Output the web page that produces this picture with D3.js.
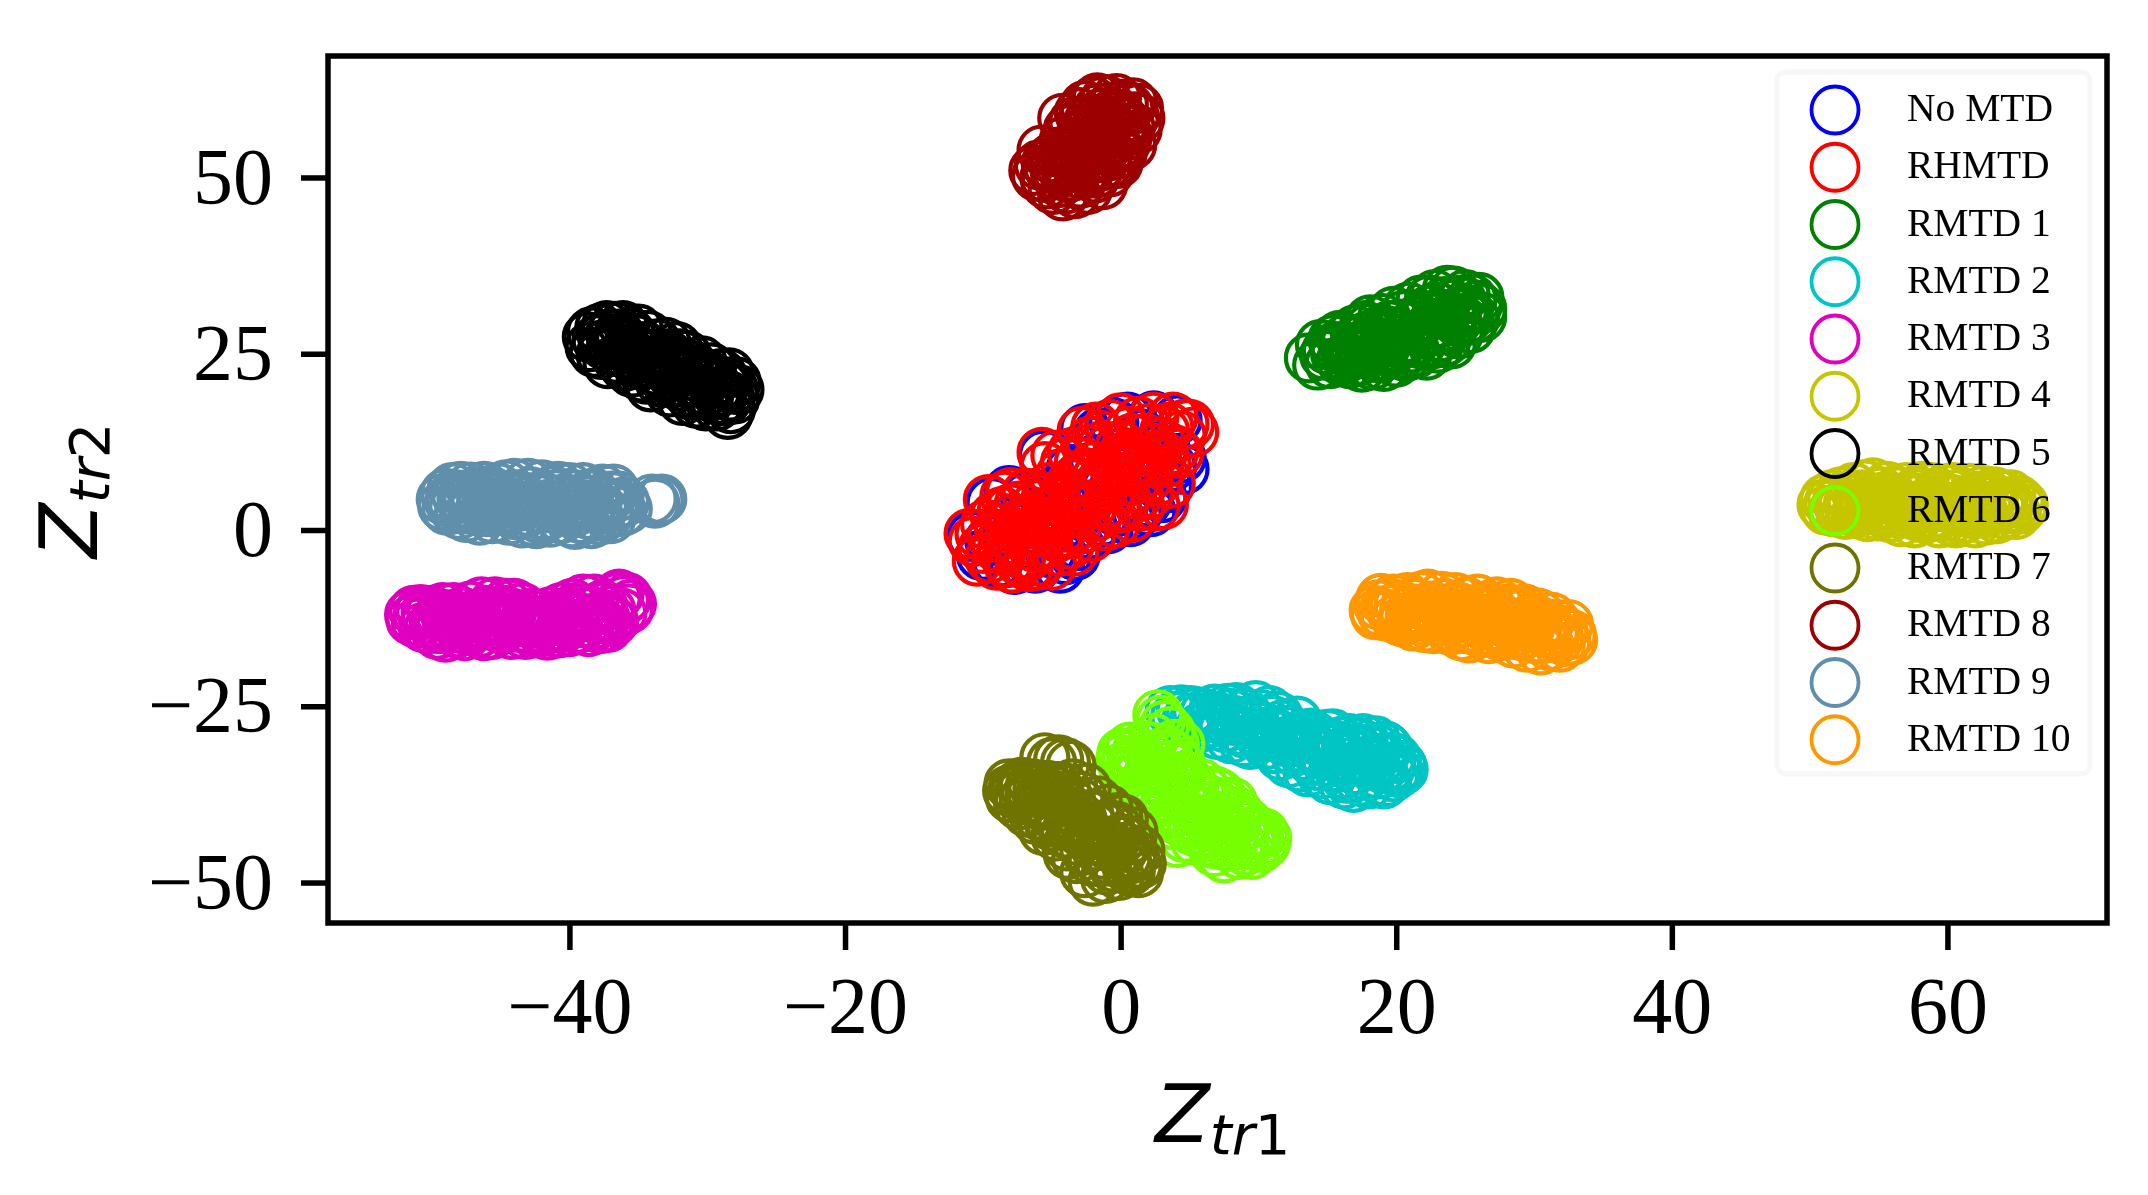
<!DOCTYPE html>
<html><head><meta charset="utf-8">
<script src="https://cdnjs.cloudflare.com/ajax/libs/d3/7.8.5/d3.min.js"></script>
<style>html,body{margin:0;padding:0;background:#fff}svg{display:block;filter:blur(0.5px)}</style>
</head><body><div id="chart"></div>
<script>
const labels=["No MTD","RHMTD","RMTD 1","RMTD 2","RMTD 3","RMTD 4","RMTD 5","RMTD 6","RMTD 7","RMTD 8","RMTD 9","RMTD 10"];
const colors=["#0000ff","#ff0000","#008000","#00c5c5","#e000c0","#c5c500","#000000","#76ff00","#6f7300","#9c0000","#5f8fab","#ff9800"];
const xTicks=[-40,-20,0,20,40,60];
const yTicks=[-50,-25,0,25,50];
const noMtd=[[-10.8,-.9],[-10.1,-3.6],[-9.5,-1.5],[-9.4,3.9],[-8.9,-4.6],[-8.3,1],[-8.1,5.6],[-7.7,-5.6],[-7.1,-2],[-6.9,4.6],[-6.2,-5.4],[-6,1.8],[-5.6,10.6],[-5.1,-3.2],[-4.9,5.4],[-4.4,-5.4],[-4.2,.8],[-4,-4.2],[-3.6,8.6],[-3.3,-3.6],[-3,-2.2],[-2.6,14.4],[-2.6,3.4],[-2.2,-.6],[-1.9,10],[-1.6,13.8],[-1.4,1.2],[-1,6],[-.9,.2],[-.5,15.2],[-.3,2.6],[.1,11],[.5,16],[.7,1.2],[1,7.4],[1.2,2.4],[1.5,13.6],[1.9,4],[2.2,2.6],[2.4,16.2],[2.6,9],[3,4.6],[3.2,12],[3.4,6],[3.7,9],[4.4,10.2],[4.6,8.6],[4.1,15.6]];
const rhmtd=[[-11,-.5],[-10.7,-1.6],[-10.4,-4.4],[-10.2,-.6],[-10,-2.6],[-9.8,.8],[-9.6,4.3],[-9.5,-4],[-9.3,-1],[-9.1,2],[-9,-5],[-8.8,.2],[-8.6,-2.8],[-8.4,4.8],[-8.2,-4.6],[-8,5.3],[-7.9,-5.4],[-7.8,1.6],[-7.6,-1.6],[-7.4,3.4],[-7.2,-3.4],[-7,-.4],[-6.8,5.2],[-6.7,-5.2],[-6.5,1.2],[-6.3,-2.4],[-6.1,3.6],[-5.9,-4.4],[-5.7,11],[-5.6,.4],[-5.5,9],[-5.3,-1.8],[-5.2,6],[-5,-5],[-4.8,2.8],[-4.7,10.6],[-4.5,-3],[-4.3,8],[-4.1,.4],[-3.9,5],[-3.7,-2],[-3.5,11],[-3.4,-3],[-3.2,2.8],[-3,7.6],[-2.8,14],[-2.7,.2],[-2.5,4.8],[-2.4,11.4],[-2.2,-1],[-2,9],[-1.8,14.6],[-1.7,2],[-1.5,6.6],[-1.3,12],[-1.1,.6],[-.9,4],[-.8,15],[-.6,9.4],[-.4,1],[-.2,6],[0,15.9],[0,12],[.2,3.4],[.4,9],[.6,14],[.8,1.8],[.9,6],[1.1,11],[1.3,15.4],[1.4,3.4],[1.6,8],[1.8,13],[2,5],[2.2,10],[2.4,16],[2.5,3.4],[2.7,7],[2.9,12.4],[3.1,3.6],[3.3,9.6],[3.5,14.6],[3.8,16],[3.6,6.6],[3.9,11.4],[4.2,10.9],[4.4,13.4],[4.6,15],[5,15],[5.3,13.9],[-9,-2.4],[-8.4,-.6],[-8,3],[-7.5,.4],[-7.3,-4.5],[-6.6,-3.6],[-6.2,-.4],[-5.8,2.4],[-5.4,4.6],[-4.6,-1],[-4.2,2],[-3.8,-.4],[-3.2,.6],[-3.6,6.6],[-2.6,7.4],[-2,3.6],[-1.8,5.2],[-4,9.6],[-3,9.6],[-1,8],[-.4,3],[-.8,11.6],[.3,7],[.5,10.6],[1.3,5],[1,9.4],[2,7.4],[2.4,11.6],[.8,13],[2,14.4],[3,10.6],[3.2,14],[-1.4,13.4],[-2.2,12.6],[-4,4],[-7,1.2],[-8.6,2.6],[-5,.9],[-6,-5]];
const rmtd1=[[13.7,24.4],[14.3,23.4],[14.5,26.3],[14.8,24.8],[15,25.6],[15.2,23.6],[15.4,27],[15.6,25],[15.9,27.6],[16,24],[16.2,26],[16.4,27.2],[16.6,23.6],[16.8,25.4],[17,28.4],[17.2,26.8],[17.3,24],[17.5,23.1],[17.7,29],[17.8,27.4],[18,25.2],[18.1,29.8],[18.3,23.4],[18.5,28],[18.6,26.2],[18.8,24.4],[19,30],[19.1,23.2],[19.3,27.4],[19.5,29],[19.6,25.2],[19.8,31],[20,23.8],[20.1,28],[20.3,26.4],[20.5,30.4],[20.7,24.6],[20.9,31.6],[21,28.8],[21.2,26.8],[21.4,25],[21.6,30],[21.8,32.6],[22,27.8],[22.2,24.8],[22.4,31.2],[22.6,29.2],[22.8,33.4],[23,25.8],[23.2,27.4],[23.3,30.6],[23.5,32.4],[23.7,34],[23.9,28.6],[24,26.4],[24.2,33.9],[24.3,30.8],[24.5,27.8],[24.7,32.6],[24.9,29.6],[25,33.4],[25.2,31.2],[25.4,28.6],[25.5,32.8],[25.7,30],[25.9,31.9],[26,33],[26.2,31.4],[26.2,30.2],[15.6,26],[16.6,25],[17.4,26],[17.6,25],[18.2,27],[18.4,24.6],[19.2,26],[19.4,28.2],[19.8,25.8],[20.2,29.2],[20.6,27.2],[21,25.8],[21.4,29],[21.8,26.4],[22,30.4],[22.2,28.2],[22.6,26.4],[23,31.6],[23.4,28.8],[23.6,26.8],[24,32],[24.4,29.6],[24.8,31],[25.2,30],[16.4,24.4],[17,25],[18,28.6],[20.4,25],[24,30.2],[22.4,32.6]];
const rmtd2=[[3.6,-25.6],[4,-26.4],[4.4,-25.5],[4.8,-27],[5.1,-25.6],[5.4,-26.6],[5.8,-28],[6.1,-26],[6.4,-27.4],[6.8,-25.4],[7,-29],[7.2,-26.6],[7.5,-28],[7.8,-25.3],[8,-29.6],[8.2,-27],[8.4,-25.2],[8.6,-28.4],[8.9,-30],[9.1,-26],[9.4,-30.4],[9.6,-27.6],[9.8,-24.9],[10,-29],[10.2,-26.2],[10.4,-28],[10.6,-30.4],[10.8,-25.6],[11,-27],[11.2,-31],[11.4,-29],[11.6,-32],[11.8,-27.6],[12,-30],[12.2,-33],[12.4,-28.6],[12.6,-31.4],[12.8,-27.1],[13,-33.6],[13.2,-29.6],[13.4,-32],[13.6,-34.3],[13.8,-28.8],[14,-31],[14.2,-33.4],[14.4,-30],[14.6,-34.6],[14.8,-32],[15,-29],[15.2,-35.4],[15.4,-28.9],[15.6,-31],[15.8,-33.6],[16,-30],[16.2,-36],[16.4,-32.4],[16.6,-29.6],[16.9,-36.5],[17,-34],[17.2,-31],[17.4,-35.6],[17.6,-29.6],[17.8,-33],[18,-36],[18.2,-31.4],[18.5,-29.9],[18.7,-34.6],[18.9,-32.4],[19.1,-36],[19.3,-35.7],[19.4,-31],[19.6,-33.6],[19.8,-35],[20,-32.4],[20.2,-34.4],[20.4,-33.4],[20.5,-34],[5.6,-25.8],[6.6,-26.4],[7.4,-27],[8,-26],[9,-28.8],[9.4,-27],[10.4,-29.4],[10.8,-28.6],[11.4,-26.4],[12,-28.4],[12.6,-29.8],[13,-30.8],[13.4,-29],[13.8,-32.6],[14.2,-29.4],[14.6,-31.6],[15,-33],[15.4,-30.4],[15.8,-32],[16.2,-34.6],[16.6,-31.4],[17,-32.8],[17.4,-30.2],[17.8,-34.8],[18.2,-33.2],[18.6,-31],[19,-33.8],[19.2,-30.6],[19.6,-32.2],[20,-34],[16.4,-35.2],[15,-30.4],[12.4,-30],[11,-29]];
const rmtd3=[[-51.6,-12],[-51.5,-12.8],[-51.3,-11.4],[-51.1,-13.2],[-51,-12],[-50.8,-11.3],[-50.6,-13.8],[-50.4,-12.6],[-50.2,-14],[-50,-11.4],[-49.8,-13],[-49.6,-14.8],[-49.4,-12],[-49.2,-11],[-49,-15.2],[-48.8,-13.4],[-48.6,-12.2],[-48.4,-11],[-48.2,-14.6],[-48,-13],[-47.8,-11.6],[-47.6,-15],[-47.4,-12.6],[-47.2,-10.8],[-47,-14],[-46.8,-12],[-46.6,-13.4],[-46.4,-10.2],[-46.2,-15],[-46,-11.4],[-45.8,-13],[-45.6,-14.8],[-45.4,-10.2],[-45.2,-12.4],[-45,-14],[-44.8,-11.4],[-44.6,-10.4],[-44.4,-13.4],[-44.2,-14.8],[-44,-10.4],[-43.8,-12.2],[-43.6,-13.8],[-43.4,-11],[-43.2,-14.8],[-43,-12.8],[-42.8,-11.8],[-42.6,-14.6],[-42.4,-13.2],[-42.2,-12],[-42,-14.4],[-41.8,-13],[-41.6,-14.9],[-41.4,-11.6],[-41.2,-13.6],[-41,-12.2],[-40.8,-14.6],[-40.6,-11],[-40.4,-13],[-40.2,-12],[-40,-14.4],[-39.8,-10.4],[-39.6,-12.6],[-39.4,-14],[-39.2,-11.2],[-39,-9.8],[-38.8,-13.2],[-38.6,-14.4],[-38.4,-11.6],[-38.2,-9.8],[-38,-12.6],[-37.8,-14],[-37.6,-10.6],[-37.4,-12.6],[-37.2,-13.8],[-37,-11.4],[-36.8,-13],[-36.6,-9.6],[-36.4,-9.1],[-36.2,-11.8],[-36,-10],[-35.8,-9.6],[-35.5,-10.5],[-35.7,-11.2],[-50.4,-11.6],[-49.6,-13.4],[-49,-12],[-48.4,-13],[-47.8,-14],[-47.2,-12.2],[-46.6,-14.6],[-46,-12.6],[-45.4,-13.6],[-44.8,-12.8],[-44.2,-11.8],[-43.6,-12.6],[-43,-14],[-42.4,-12],[-41.8,-14.2],[-41.2,-12.6],[-40.6,-13.8],[-40,-11.6],[-39.4,-12.4],[-38.8,-11.6],[-38.2,-13.4],[-37.6,-12],[-37,-12.6],[-37.8,-11],[-39.6,-11],[-47.6,-13.4],[-49.4,-14],[-42.8,-13.2],[-44.6,-13],[-46.2,-11.8]];
const rmtd4=[[50.9,3.6],[51.1,4.4],[51.2,2.8],[51.4,3.8],[51.6,5],[51.7,2.6],[52,4],[52.2,3],[52.3,5.4],[52.6,2.2],[52.8,3.6],[53,4.8],[53.2,6],[53.4,2.4],[53.6,3.4],[53.8,5],[54,6.4],[54.2,1.9],[54.4,3],[54.6,6.7],[54.8,4.2],[55,2],[55.2,5.4],[55.4,3.2],[55.6,6.2],[55.8,1.8],[56,4.4],[56.2,2.8],[56.4,5.4],[56.6,1.2],[56.8,3.6],[57,6],[57.2,2.4],[57.4,4.6],[57.6,1],[57.8,5.6],[58,3],[58.2,6.2],[58.4,1.6],[58.6,4],[58.8,6],[59,2.4],[59.2,5],[59.4,1],[59.6,3.4],[59.8,5.8],[60,2],[60.2,4.4],[60.4,6],[60.6,1],[60.8,3],[61,5.2],[61.2,1.6],[61.4,4],[61.6,5.9],[61.8,2.6],[62,1],[62.2,4.8],[62.4,3.2],[62.6,5.6],[62.8,1.4],[63,2.6],[63.2,4.4],[63.4,5.4],[63.6,1.6],[63.8,3.4],[64,5],[64.2,2.2],[64.4,4],[64.6,5],[64.8,3],[65,2.2],[65.2,4.2],[65.4,3],[65.5,3.6],[52.4,3.4],[53,3],[53.6,4.4],[54.4,4.6],[55,3.4],[55.6,4.8],[56,3.2],[56.6,2.4],[57.2,3.4],[57.8,2],[58.2,4.6],[58.8,3.2],[59.2,2],[59.6,4.6],[60,3.2],[60.6,5],[61,2.6],[61.6,3],[62,3.8],[62.6,2.4],[63,5],[63.4,3],[64,4],[64.4,3],[57,4.6],[60.2,1.4],[58,5.2],[55.4,2.4],[54,3.6],[62.4,4.2]];
const rmtd5=[[-38.7,27.4],[-38.5,26],[-38.4,28.1],[-38.2,25.2],[-38,27],[-37.8,28.6],[-37.7,24.9],[-37.5,26.3],[-37.3,29],[-37.2,23.6],[-37,27.8],[-36.8,25.4],[-36.7,28.9],[-36.5,24.3],[-36.3,26.8],[-36.1,29],[-36,23.2],[-35.8,25.7],[-35.6,28],[-35.5,22.4],[-35.3,24.6],[-35.1,27],[-35,28.5],[-34.8,21.7],[-34.7,23.8],[-34.5,26],[-34.3,27.6],[-34.1,20.3],[-34,22.6],[-33.8,24.9],[-33.6,26.4],[-33.4,21],[-33.2,23.2],[-33,26.6],[-32.9,25],[-32.7,19.6],[-32.5,21.9],[-32.3,24],[-32.2,26],[-32,20.4],[-31.8,18.4],[-31.7,22.6],[-31.5,24.8],[-31.3,19.2],[-31.1,21.2],[-31,23.3],[-30.8,18],[-30.6,20],[-30.4,24],[-30.3,22],[-30.1,17.6],[-29.9,19],[-29.7,23],[-29.5,21],[-29.3,17.6],[-29.1,19.6],[-29,22.2],[-28.8,20.6],[-28.6,18.4],[-28.5,16.4],[-28.4,22.3],[-28.3,17.2],[-28.1,20],[-28,18.6],[-27.9,21],[-27.7,19.9],[-37.6,27.4],[-37,25.6],[-36.4,27.8],[-36,25],[-35.6,26.4],[-35,23.6],[-34.6,25],[-34.2,23.6],[-33.6,22.6],[-33,24],[-33.2,21.8],[-32.4,23],[-32,25],[-31.8,21],[-31.4,23.4],[-31,19.6],[-30.6,21.6],[-30.2,19.4],[-29.8,21.8],[-29.4,19.6],[-29,18.4],[-28.6,21],[-28.4,19],[-35.2,25.6],[-36.6,26.6],[-34.4,21.4],[-32.8,22.6],[-30.8,22.6]];
const rmtd6=[[0,-32.6],[.1,-31.6],[.2,-33.6],[.4,-32],[.5,-34.6],[.7,-30.8],[.8,-33],[1,-35.4],[1.2,-31.4],[1.3,-36.6],[1.5,-33.8],[1.7,-30.6],[1.9,-35.2],[2,-37.6],[2.2,-32.4],[2.4,-29.6],[2.6,-34.4],[2.7,-26.2],[2.8,-38],[2.9,-27],[3,-31.6],[3.1,-36],[3.2,-27.7],[3.3,-39.6],[3.5,-33.4],[3.6,-28.6],[3.7,-37.4],[3.9,-30.4],[4,-41],[4.2,-35],[3.9,-32],[4.6,-38.6],[4.8,-42],[4.4,-33.5],[4.3,-30.4],[5.3,-36.6],[5.5,-40],[5.7,-43],[5.9,-36],[6,-38],[6.2,-37],[6.4,-41.6],[6.6,-44.2],[6.8,-37],[7,-39],[7.2,-37.4],[7.4,-42.4],[7.5,-46.5],[7.7,-39],[7.9,-40.4],[8.1,-44.8],[8.1,-38.6],[8.5,-40],[8.6,-46],[8.8,-42],[9,-42],[9.2,-41.5],[9.4,-44],[9.5,-46],[9.6,-43],[9.8,-42.6],[10,-43],[10.2,-45],[10.4,-43],[10.6,-43.7],[10.5,-44.5],[4.1,-44.3],[.9,-34],[1.4,-32.4],[1.8,-36.4],[2.2,-33.8],[2.6,-36.4],[3,-34.6],[3.4,-31.4],[3.4,-38],[3.8,-35.6],[4.2,-39.8],[4.4,-37.4],[4.8,-35.4],[5,-40.6],[5.2,-38.6],[5.6,-41.4],[5.8,-37.6],[6.2,-40],[6.2,-43.2],[6.6,-38.4],[7,-41],[7,-44.6],[7.2,-43.4],[7.6,-44.4],[7.8,-42],[8.2,-43],[8.4,-41.4],[8.8,-44.6],[9,-45.4],[6.8,-45.6],[5.4,-44],[4.6,-43.6],[2.4,-37],[3,-40],[3.8,-41.8],[5.2,-42.6],[2.2,-30.8],[1,-33],[9.8,-44.8]];
const rmtd7=[[-8.2,-37],[-8.1,-36],[-8,-38],[-7.8,-36.6],[-7.6,-37],[-7.4,-39],[-7.2,-35.8],[-7,-36.4],[-6.8,-40],[-6.6,-38],[-6.4,-36],[-6.2,-41],[-6,-36.6],[-5.8,-39],[-5.6,-42.6],[-5.5,-32.3],[-5.3,-36.2],[-5.2,-37.4],[-5,-33],[-4.9,-40.4],[-4.7,-43.4],[-4.5,-32.6],[-4,-36.6],[-4.2,-38.6],[-4,-33],[-3.9,-44.8],[-3.7,-41],[-3.5,-36],[-3.6,-33.4],[-3.2,-46.6],[-3,-38.6],[-2.8,-43],[-2.6,-48.6],[-2.5,-36.6],[-2.3,-40.4],[-2,-49.8],[-1.9,-44.8],[-1.7,-38.4],[-1.5,-47],[-1.3,-42],[-1.1,-49.4],[-.9,-39.6],[-.7,-45],[-.5,-47.8],[-.3,-42],[-.1,-49],[.1,-43.8],[.2,-41],[.4,-46.4],[.6,-44],[.7,-48.4],[.9,-42.8],[1,-46],[1.2,-47.6],[1.4,-45.4],[1.5,-47.3],[1.3,-48.6],[-6,-38.6],[-4.6,-36.4],[-3.4,-42],[-2,-42],[-1,-44.6],[-7.4,-37.6],[-7,-38.2],[-6.6,-36.6],[-6,-40.4],[-5.8,-37.4],[-5.4,-38.6],[-5.2,-41.4],[-4.8,-37],[-4.6,-39.4],[-4.2,-41.6],[-4,-43],[-3.6,-38.6],[-3.4,-40],[-3.2,-44],[-2.8,-37.8],[-2.8,-41],[-2.6,-45.4],[-2.2,-43.2],[-2,-47],[-1.8,-40.4],[-1.4,-44],[-1.2,-46],[-.8,-42],[-.6,-47],[-.4,-44],[0,-46],[.3,-45],[.5,-48],[.8,-46.6],[-.2,-40.8],[-1,-48.2],[-3.8,-46],[-5,-42]];
const rmtd8=[[-6.3,51],[-6.1,50.2],[-5.9,51.8],[-5.7,53.9],[-5.5,50],[-5.4,49.1],[-5.2,51.3],[-5,52.8],[-4.9,48.3],[-4.7,50.4],[-4.5,53.6],[-4.4,49.3],[-4.2,47.4],[-4.2,58.4],[-4.1,55.2],[-4,51.4],[-3.9,48.4],[-3.8,56.8],[-3.7,53.2],[-3.5,50.2],[-3.4,57.9],[-3.3,47.7],[-3.2,54.9],[-3.1,52],[-3,59.2],[-2.9,49.2],[-2.8,56.3],[-2.7,53.5],[-2.6,60.2],[-2.5,51],[-2.4,48.3],[-2.3,58],[-2.2,55],[-2.1,52.6],[-2,60.8],[-1.9,49.9],[-1.8,57],[-1.7,61.3],[-1.6,54],[-1.5,51.6],[-1.4,59.1],[-1.3,49],[-1.2,56],[-1.1,61],[-1,53],[-.9,58],[-.8,50.8],[-.7,60],[-.6,55.1],[-.5,57],[-.4,52.2],[-.3,61.2],[-.2,54.2],[-.1,59],[0,56.2],[.1,53.4],[.2,60.4],[.3,58],[.4,55],[.6,59.9],[.7,57],[.8,54.6],[.9,60.6],[1,58.6],[1.2,56.8],[1.3,59.8],[1.4,58.4],[-5.4,52],[-4.8,51.4],[-4.4,51.6],[-3.8,50],[-3.4,52.6],[-3.4,54],[-2.8,50.4],[-2.6,55],[-2,54],[-2.2,57],[-1.8,50.6],[-1.4,53],[-1,57.4],[-1,51.8],[-.6,59],[-.4,54],[.2,57],[.5,56],[-1.6,59.8],[-3.8,53.8],[-.2,52],[-2.8,58]];
const rmtd9=[[-49.3,4.4],[-49.2,3.4],[-49,5.2],[-48.9,2.8],[-48.7,4],[-48.5,6],[-48.4,3],[-48.2,5],[-48,2.2],[-47.9,6.2],[-47.7,3.8],[-47.5,1.8],[-47.4,5],[-47.2,6.1],[-47,3],[-46.8,4.4],[-46.5,1.4],[-46.4,5.4],[-46.2,6.2],[-46,2.6],[-45.8,3.8],[-45.6,1.6],[-45.4,5],[-45.2,6],[-45,2.8],[-44.8,4],[-44.6,6.4],[-44.4,1.4],[-44.2,3.2],[-44,6.6],[-43.8,5],[-43.6,2.2],[-43.4,1],[-43.2,4],[-43,6.6],[-42.8,5.4],[-42.6,1.2],[-42.4,.9],[-42.2,3],[-42,6.4],[-41.8,4.6],[-41.6,2],[-41.4,1.1],[-41.2,5.6],[-41,3.4],[-40.8,6.2],[-40.6,1.6],[-40.4,4.4],[-40.2,2.6],[-40,6],[-39.8,1],[-39.6,5],[-39.4,3.4],[-39.2,1.6],[-39,6],[-38.8,4.2],[-38.6,2.2],[-38.4,.9],[-38.2,5.2],[-38,3],[-37.8,1.4],[-37.6,5.8],[-37.4,4],[-37.2,2.2],[-37,1.6],[-36.8,5.8],[-36.6,3.4],[-36.4,4.8],[-36.2,2.6],[-36,4],[-35.8,3],[-34,4.4],[-33.8,3.8],[-33.5,4.2],[-33.3,4.4],[-48.6,4.6],[-47.6,3],[-47,5],[-46.4,3.6],[-46,4.6],[-45.6,3.4],[-45,4.6],[-44.2,4.6],[-44,2.2],[-43.6,3.4],[-43,2.6],[-42.6,4.6],[-42.2,1.6],[-41.6,3.6],[-41,5],[-40.6,2.8],[-40,4],[-39.6,2.6],[-39,3.6],[-38.6,5],[-38.2,2],[-37.6,3],[-37,4.8],[-36.8,3.4],[-36.4,3.6],[-45.6,5.4],[-47.8,4.6],[-39.6,.8]];
const rmtd10=[[18.4,-11.4],[18.5,-12],[18.7,-10.6],[18.9,-9.7],[19,-11.8],[19.2,-12.2],[19.4,-10.4],[19.6,-11.3],[19.8,-9.8],[20,-12.6],[20.2,-10.6],[20.4,-13],[20.6,-11.6],[20.8,-9.6],[21,-12.4],[21.2,-13.6],[21.4,-10.4],[21.6,-11.8],[21.8,-9.4],[22,-13.8],[22.2,-12.3],[22.3,-9.1],[22.5,-10.8],[22.7,-14],[22.9,-11.6],[23.1,-13],[23.3,-9.4],[23.5,-10.4],[23.7,-12.4],[23.9,-14.2],[24.1,-11],[24.3,-9.6],[24.5,-13.2],[24.7,-15],[24.9,-12],[25.1,-10.2],[25.3,-15.3],[25.5,-13.8],[25.7,-11.4],[25.9,-9.8],[26.1,-14.6],[26.3,-12.6],[26.5,-10.8],[26.7,-15.4],[26.9,-13.6],[27.1,-11.6],[27.3,-10.2],[27.5,-15],[27.7,-12.8],[27.9,-14.2],[28.1,-11.2],[28.3,-10.4],[28.5,-16],[28.7,-13.2],[28.9,-12],[29.1,-15],[29.3,-11.2],[29.5,-16.6],[29.7,-13.8],[29.9,-12.4],[30.1,-15.4],[30.3,-11.8],[30.5,-17],[30.7,-13.2],[30.9,-14.6],[31.1,-16.4],[31.3,-12.4],[31.5,-15],[31.7,-13.4],[31.9,-16.6],[32.1,-14.2],[32.3,-15.8],[32.5,-13.4],[32.7,-14.8],[32.8,-15.6],[19.8,-11.2],[20.6,-12.6],[21.2,-11.2],[21.8,-12.8],[22.4,-11],[23,-12.2],[23.6,-11.4],[24.2,-12.6],[24.6,-11],[25,-14],[25.4,-12.6],[26,-13],[26.4,-11.8],[26.8,-14.4],[27.2,-12.6],[27.6,-13.8],[28.2,-14.8],[28.6,-11.4],[29,-13.6],[29.4,-14.6],[29.8,-12.8],[30.2,-14],[30.6,-15.4],[31,-13.4],[31.4,-14.6],[31.8,-15.4],[28,-13.2],[26.2,-11],[24,-13.8],[22,-12]];
const seriesList=[noMtd,rhmtd,rmtd1,rmtd2,rmtd3,rmtd4,rmtd5,rmtd6,rmtd7,rmtd8,rmtd9,rmtd10];

const W=2148,H=1195,L=328,R=2107,T=56,B=923;
const x=d3.scaleLinear().domain([-57.52,71.58]).range([L,R]);
const y=d3.scaleLinear().domain([-55.74,67.23]).range([B,T]);
const radius=23.5, strokeW=4.2;
const svg=d3.select("#chart").append("svg").attr("width",W).attr("height",H).style("background","#fff");
const serif="'Liberation Serif','Times New Roman',serif", sans="'DejaVu Sans',sans-serif";
const fmt=d=>String(d).replace("-","\u2212");

// legend frame sits beneath the points
const legX=1777,legY=72,legW=313,legH=702,legStep=57.25,legFirst=110;
svg.append("rect").attr("x",legX).attr("y",legY).attr("width",legW).attr("height",legH).attr("rx",9)
  .attr("fill","#fff").attr("stroke","#f7f7f7").attr("stroke-width",5);

// points
const plot=svg.append("g");
seriesList.forEach((pts,i)=>{
  plot.append("g").selectAll("circle").data(pts).join("circle")
    .attr("cx",d=>x(d[0])).attr("cy",d=>y(d[1])).attr("r",radius)
    .attr("fill","none").attr("stroke",colors[i]).attr("stroke-width",strokeW);
});

// axes
const gx=svg.append("g").attr("transform",`translate(0,${B})`)
  .call(d3.axisBottom(x).tickValues(xTicks).tickFormat(fmt).tickSize(27).tickPadding(26).tickSizeOuter(0));
const gy=svg.append("g").attr("transform",`translate(${L},0)`)
  .call(d3.axisLeft(y).tickValues(yTicks).tickFormat(fmt).tickSize(27).tickPadding(28).tickSizeOuter(0));
[gx,gy].forEach(g=>{
  g.select(".domain").remove();
  g.selectAll(".tick line").attr("stroke","#000").attr("stroke-width",5.5);
  g.selectAll(".tick text").attr("fill","#000").style("font-family",serif).style("font-size","80px");
});
gy.selectAll(".tick text").attr("dy","0.32em");
gx.selectAll(".tick text").attr("dy","0.71em");
svg.append("rect").attr("x",L).attr("y",T).attr("width",R-L).attr("height",B-T)
  .attr("fill","none").attr("stroke","#000").attr("stroke-width",5.5);

// axis titles
function title(sel,sub,digit){
  sel.style("font-family",sans).style("fill","#000");
  sel.append("tspan").text("Z").style("font-size","80px").style("font-style","italic");
  sel.append("tspan").text(sub).attr("dy",12).style("font-size","56px").style("font-style","italic");
  sel.append("tspan").text(digit).style("font-size","56px");
}
title(svg.append("text").attr("x",1155).attr("y",1142),"tr","1");
title(svg.append("text").attr("transform","translate(97,558) rotate(-90)"),"tr","2");

// legend entries on top of the points
const leg=svg.append("g");
labels.forEach((t,i)=>{
  const cy=legFirst+i*legStep;
  leg.append("circle").attr("cx",1835).attr("cy",cy).attr("r",radius).attr("fill","none")
    .attr("stroke",colors[i]).attr("stroke-width",strokeW-0.4);
  leg.append("text").attr("x",1907).attr("y",cy+11).text(t).attr("fill","#000")
    .style("font-family",serif).style("font-size","39.5px");
});
</script></body></html>
